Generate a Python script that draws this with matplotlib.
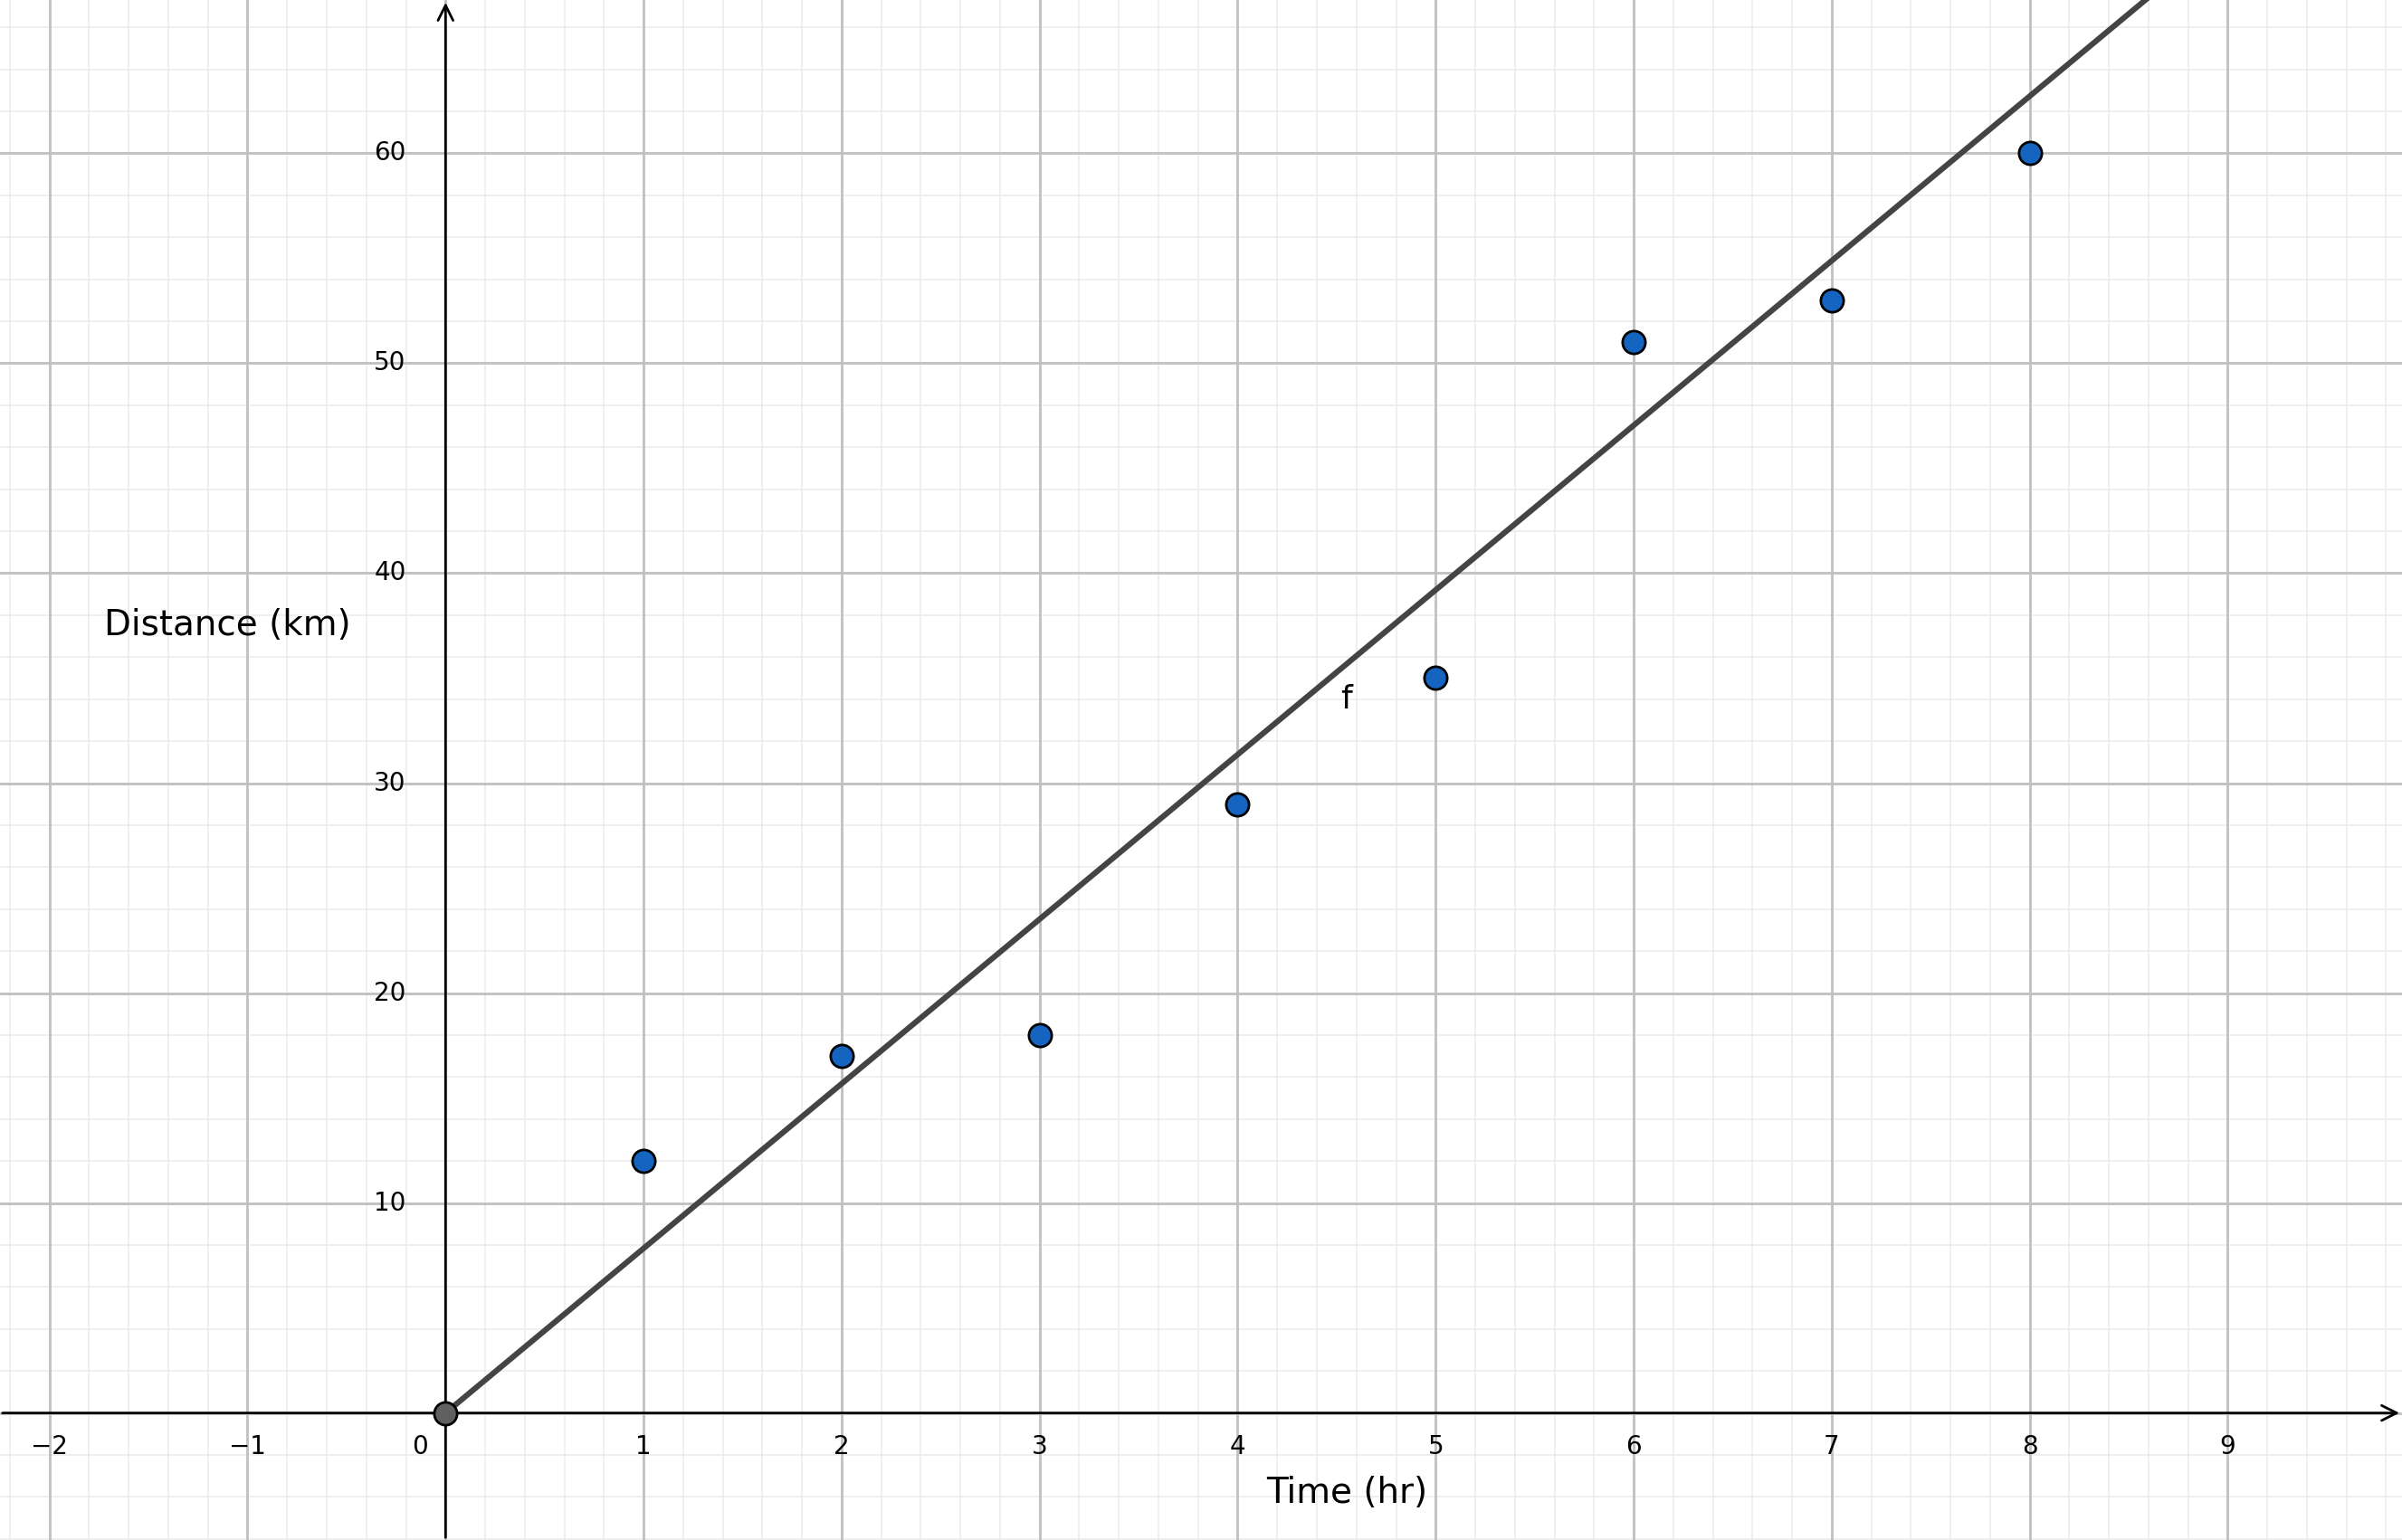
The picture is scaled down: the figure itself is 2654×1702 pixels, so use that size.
import numpy as np
import matplotlib.pyplot as plt

time_hr = [1, 2, 3, 4, 5, 6, 7, 8]
distance_km = [12, 17, 18, 29, 35, 51, 53, 60]
slope = 7.84
x_ticks = [-2, -1, 1, 2, 3, 4, 5, 6, 7, 8, 9]
y_ticks = [10, 20, 30, 40, 50, 60]

xmin, xmax, ymin, ymax = -2.25, 9.88, -6.05, 67.3

fig = plt.figure(figsize=(26.54, 17.02), dpi=100)
ax = fig.add_axes([0, 0, 1, 1])
ax.set_xlim(xmin, xmax)
ax.set_ylim(ymin, ymax)
for s in ax.spines.values():
    s.set_visible(False)
ax.set_xticks([]); ax.set_yticks([])

# grid
for v in np.arange(-2.2, 10, 0.2):
    ax.axvline(v, color="#ececec", lw=1.2, zorder=0)
for v in np.arange(-6, 68, 2):
    ax.axhline(v, color="#ececec", lw=1.2, zorder=0)
for v in range(-2, 10):
    ax.axvline(v, color="#c0c0c0", lw=2, zorder=1)
for v in range(-0, 70, 10):
    ax.axhline(v, color="#c0c0c0", lw=2, zorder=1)

# axes arrows
ax.annotate("", xy=(xmax, 0), xytext=(xmin, 0),
            arrowprops=dict(arrowstyle="->", color="black", lw=2, mutation_scale=30), zorder=2)
ax.annotate("", xy=(0, ymax), xytext=(0, ymin),
            arrowprops=dict(arrowstyle="->", color="black", lw=2, mutation_scale=30), zorder=2)

for t in x_ticks:
    ax.text(t, -1.0, str(t).replace("-", "\u2212"), ha="center", va="top", fontsize=20)
ax.text(-0.13, -1.0, "0", ha="center", va="top", fontsize=20)
for t in y_ticks:
    ax.text(-0.2, t, str(t), ha="right", va="center", fontsize=20)

# fitted line
xs = np.array([0, 9.88])
ax.plot(xs, slope * xs, color="#444444", lw=4.5, zorder=3)
ax.text(4.55, 34, "f", fontsize=26, ha="center", va="center")

ax.scatter(time_hr, distance_km, s=330, color="#1565c0", edgecolor="black", lw=2, zorder=4)
ax.scatter([0], [0], s=330, color="#606060", edgecolor="black", lw=2, zorder=4)

ax.text(-1.1, 37.5, "Distance (km)", fontsize=28, ha="center", va="center")
ax.text(4.55, -3.8, "Time (hr)", fontsize=28, ha="center", va="center")

fig.savefig("out.png", dpi=100)
